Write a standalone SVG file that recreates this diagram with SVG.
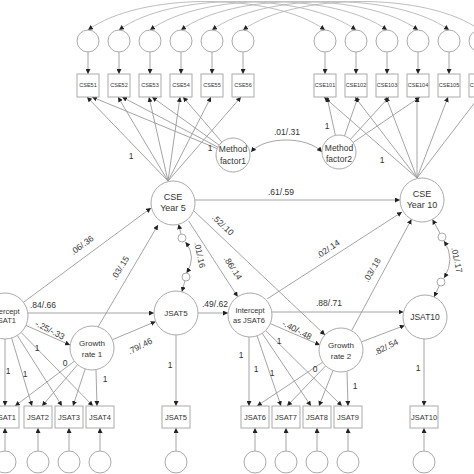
<svg xmlns="http://www.w3.org/2000/svg" width="474" height="474" viewBox="0 0 474 474">
<defs>
<marker id="ah" viewBox="0 0 10 10" refX="10" refY="5" markerWidth="5" markerHeight="5" orient="auto-start-reverse" markerUnits="userSpaceOnUse"><path d="M0,0 L10,5 L0,10 z" fill="#222"/></marker>
<style>
.n circle,.n rect{fill:#fff;stroke:#aaa;stroke-width:1}
.c line,.c path{stroke:#9a9a9a;stroke-width:0.9;fill:none;marker-end:url(#ah)}
.c .d{marker-start:url(#ah)}
.c .arc{stroke:#b5b5b5}
text{font-family:"Liberation Sans",Arial,sans-serif;fill:#333;text-anchor:middle}
.t5{font-size:5.5px}
.t7{font-size:7.5px}
.t8{font-size:8px}
.t9{font-size:9px}
.lb{font-size:8.5px}
</style>
</defs>
<rect width="474" height="474" fill="#fff"/>
<g id="connectors" class="c">
<!-- error covariances top -->
<path class="d arc" d="M88,30 C140,-8 273,-8 325,30"/>
<path class="d arc" d="M119,30 C171,-8 304,-8 356,30"/>
<path class="d arc" d="M150,30 C202,-8 335,-8 387,30"/>
<path class="d arc" d="M181,30 C233,-8 366,-8 418,30"/>
<path class="d arc" d="M212,30 C264,-8 397,-8 449,30"/>
<path class="d arc" d="M243,30 C295,-8 428,-8 480,30"/>
<!-- error to CSE boxes -->
<line x1="88" y1="52" x2="88" y2="74"/><line x1="119" y1="52" x2="119" y2="74"/><line x1="150" y1="52" x2="150" y2="74"/>
<line x1="181" y1="52" x2="181" y2="74"/><line x1="212" y1="52" x2="212" y2="74"/><line x1="243" y1="52" x2="243" y2="74"/>
<line x1="325" y1="52" x2="325" y2="74"/><line x1="356" y1="52" x2="356" y2="74"/><line x1="387" y1="52" x2="387" y2="74"/>
<line x1="418" y1="52" x2="418" y2="74"/><line x1="449" y1="52" x2="449" y2="74"/><line x1="480" y1="52" x2="480" y2="74"/>
<!-- CSE Y5 loadings -->
<line x1="168" y1="181" x2="87" y2="97"/><line x1="168" y1="181" x2="118" y2="97"/><line x1="168" y1="181" x2="149" y2="97"/>
<line x1="168" y1="181" x2="180" y2="97"/><line x1="168" y1="181" x2="211" y2="97"/><line x1="168" y1="181" x2="241" y2="97"/>
<!-- MF1 loadings -->
<line x1="217.2" y1="148.6" x2="92" y2="97"/><line x1="217.9" y1="147.2" x2="122" y2="97"/>
<line x1="219.2" y1="145.1" x2="152" y2="97"/><line x1="221.9" y1="142.1" x2="183" y2="97"/>
<!-- CSE Y10 loadings -->
<line x1="417" y1="178" x2="324" y2="97"/><line x1="417" y1="178" x2="355" y2="97"/><line x1="417" y1="178" x2="386" y2="97"/>
<line x1="417" y1="178" x2="417" y2="97"/><line x1="417" y1="178" x2="448" y2="97"/><line x1="417" y1="178" x2="479" y2="97"/>
<!-- MF2 loadings -->
<line x1="335.4" y1="135.4" x2="327" y2="97"/><line x1="344.5" y1="135.9" x2="358" y2="97"/>
<line x1="350.4" y1="139.4" x2="389" y2="97"/><line x1="353.1" y1="142.4" x2="420" y2="97"/>
<!-- method factor covariance -->
<path class="d" d="M251,152 C265,136 307,136 322,152"/>
<!-- structural paths -->
<line x1="23.5" y1="302.3" x2="151" y2="208"/>
<line x1="98" y1="327" x2="158" y2="225"/>
<line x1="28" y1="313" x2="154" y2="313"/>
<line x1="26" y1="325.4" x2="70" y2="345"/>
<line x1="112.4" y1="339.7" x2="155.7" y2="321.5"/>
<line x1="198" y1="313" x2="228" y2="313"/>
<line x1="188.7" y1="221" x2="237.7" y2="296.8"/>
<line x1="194" y1="211" x2="325" y2="334.9"/>
<line x1="195" y1="200" x2="400" y2="200"/>
<line x1="267" y1="299" x2="402" y2="212"/>
<line x1="351.6" y1="330.7" x2="411.5" y2="219.3"/>
<line x1="272" y1="312" x2="403.5" y2="312"/>
<line x1="270.3" y1="323.6" x2="320" y2="345"/>
<line x1="361.4" y1="341.9" x2="404.7" y2="325.4"/>
<!-- disturbances -->
<line x1="181" y1="234.1" x2="178.5" y2="224.3"/>
<line x1="184.9" y1="280.9" x2="181.9" y2="291.8"/>
<path class="d" d="M185.5,242 Q197,257 186.5,273"/>
<line x1="440.1" y1="233.5" x2="432.5" y2="219.4"/>
<line x1="439.3" y1="285.6" x2="434.1" y2="297"/>
<path class="d" d="M444,241 Q456,259 444,278"/>
<!-- JSAT loadings -->
<line x1="5" y1="339" x2="5" y2="406"/><line x1="11.6" y1="338" x2="32" y2="406"/>
<line x1="17.3" y1="335.4" x2="62" y2="406"/><line x1="21.1" y1="332.4" x2="93" y2="406"/>
<line x1="74.4" y1="361.2" x2="15" y2="406"/><line x1="77.6" y1="364.7" x2="42" y2="406"/>
<line x1="85.2" y1="368.9" x2="73" y2="406"/><line x1="96" y1="369.9" x2="97" y2="406"/>
<line x1="176" y1="335" x2="176" y2="406"/>
<line x1="249" y1="337" x2="249" y2="406"/><line x1="257.1" y1="335.8" x2="281" y2="406"/>
<line x1="262.2" y1="333.3" x2="311" y2="406"/><line x1="265.6" y1="330.5" x2="342" y2="406"/>
<line x1="322.7" y1="362.2" x2="257" y2="406"/><line x1="325.7" y1="365.8" x2="287" y2="406"/>
<line x1="333" y1="370.5" x2="319" y2="406"/><line x1="347" y1="371.5" x2="348" y2="406"/>
<line x1="424" y1="339" x2="424" y2="406"/>
<!-- bottom errors -->
<line x1="5" y1="451" x2="5" y2="428"/><line x1="38" y1="451" x2="38" y2="428"/><line x1="69" y1="451" x2="69" y2="428"/>
<line x1="100" y1="451" x2="100" y2="428"/><line x1="176" y1="451" x2="176" y2="428"/><line x1="255" y1="451" x2="255" y2="428"/>
<line x1="286" y1="451" x2="286" y2="428"/><line x1="317" y1="451" x2="317" y2="428"/><line x1="348" y1="451" x2="348" y2="428"/>
<line x1="424" y1="451" x2="424" y2="428"/>
<!-- labels -->
<g class="lb">
<text transform="translate(82,245) rotate(-37)" y="3">.06/.36</text>
<text transform="translate(120,268) rotate(-58)" y="3">.03/.15</text>
<text transform="translate(223,225) rotate(43)" y="3">.52/.10</text>
<text transform="translate(233,268) rotate(57)" y="3">.86/.14</text>
<text transform="translate(200,255) rotate(78)" y="3">.01/.16</text>
<text x="281" y="195">.61/.59</text>
<text transform="translate(328,249) rotate(-34)" y="3">.02/.14</text>
<text transform="translate(372,270) rotate(-60)" y="3">.03/.18</text>
<text transform="translate(457,260) rotate(78)" y="3">.01/.17</text>
<text x="287" y="135">.01/.31</text>
<text x="43" y="308">.84/.66</text>
<text transform="translate(50,330) rotate(27)" y="3">-.25/-.33</text>
<text transform="translate(140,346) rotate(-27)" y="3">.79/.46</text>
<text x="215" y="307">.49/.62</text>
<text x="329" y="306">.88/.71</text>
<text transform="translate(297,330) rotate(28)" y="3">-.40/-.48</text>
<text transform="translate(386,347) rotate(-27)" y="3">.82/.54</text>
<text x="131" y="159">1</text><text x="210" y="151">1</text><text x="327" y="129">1</text><text x="382" y="163">1</text>
<text x="37" y="351">1</text><text x="8" y="374">1</text><text x="25" y="377">1</text><text x="65" y="366">0</text><text x="105" y="382">1</text>
<text x="170" y="368">1</text>
<text x="279" y="344">1</text><text x="241" y="358">1</text><text x="256" y="372">1</text><text x="272" y="376">1</text><text x="315" y="372">0</text><text x="355" y="389">1</text>
<text x="418" y="371">1</text>
</g>
</g>
<!-- top error terms -->
<g id="e51" class="n"><circle cx="88" cy="41" r="11"/></g>
<g id="e52" class="n"><circle cx="119" cy="41" r="11"/></g>
<g id="e53" class="n"><circle cx="150" cy="41" r="11"/></g>
<g id="e54" class="n"><circle cx="181" cy="41" r="11"/></g>
<g id="e55" class="n"><circle cx="212" cy="41" r="11"/></g>
<g id="e56" class="n"><circle cx="243" cy="41" r="11"/></g>
<g id="e101" class="n"><circle cx="325" cy="41" r="11"/></g>
<g id="e102" class="n"><circle cx="356" cy="41" r="11"/></g>
<g id="e103" class="n"><circle cx="387" cy="41" r="11"/></g>
<g id="e104" class="n"><circle cx="418" cy="41" r="11"/></g>
<g id="e105" class="n"><circle cx="449" cy="41" r="11"/></g>
<g id="e106" class="n"><circle cx="480" cy="41" r="11"/></g>
<!-- CSE boxes -->
<g id="CSE51" class="n"><rect x="77" y="74" width="22" height="23"/><text class="t5" x="88" y="87">CSE51</text></g>
<g id="CSE52" class="n"><rect x="108" y="74" width="22" height="23"/><text class="t5" x="119" y="87">CSE52</text></g>
<g id="CSE53" class="n"><rect x="139" y="74" width="22" height="23"/><text class="t5" x="150" y="87">CSE53</text></g>
<g id="CSE54" class="n"><rect x="170" y="74" width="22" height="23"/><text class="t5" x="181" y="87">CSE54</text></g>
<g id="CSE55" class="n"><rect x="201" y="74" width="22" height="23"/><text class="t5" x="212" y="87">CSE55</text></g>
<g id="CSE56" class="n"><rect x="232" y="74" width="22" height="23"/><text class="t5" x="243" y="87">CSE56</text></g>
<g id="CSE101" class="n"><rect x="314" y="74" width="22" height="23"/><text class="t5" x="325" y="87">CSE101</text></g>
<g id="CSE102" class="n"><rect x="345" y="74" width="22" height="23"/><text class="t5" x="356" y="87">CSE102</text></g>
<g id="CSE103" class="n"><rect x="376" y="74" width="22" height="23"/><text class="t5" x="387" y="87">CSE103</text></g>
<g id="CSE104" class="n"><rect x="407" y="74" width="22" height="23"/><text class="t5" x="418" y="87">CSE104</text></g>
<g id="CSE105" class="n"><rect x="438" y="74" width="22" height="23"/><text class="t5" x="449" y="87">CSE105</text></g>
<g id="CSE106" class="n"><rect x="469" y="74" width="22" height="23"/><text class="t5" x="480" y="87">CSE106</text></g>
<!-- latents -->
<g id="MF1" class="n"><circle cx="233" cy="155" r="17"/><text class="lb" x="233" y="152">Method</text><text class="lb" x="233" y="164">factor1</text></g>
<g id="MF2" class="n"><circle cx="339" cy="152" r="17"/><text class="lb" x="339" y="151">Method</text><text class="lb" x="339" y="162">factor2</text></g>
<g id="CSEY5" class="n"><circle cx="173" cy="203" r="22"/><text class="t9" x="173" y="200">CSE</text><text class="t9" x="173" y="211">Year 5</text></g>
<g id="CSEY10" class="n"><circle cx="422" cy="200" r="22"/><text class="t9" x="422" y="197">CSE</text><text class="t9" x="422" y="208">Year 10</text></g>
<g id="eCSE5" class="n"><circle cx="182" cy="238" r="4"/></g>
<g id="eJSAT5" class="n"><circle cx="186" cy="277" r="4"/></g>
<g id="eCSE10" class="n"><circle cx="442" cy="237" r="4"/></g>
<g id="eJSAT10" class="n"><circle cx="441" cy="282" r="4"/></g>
<g id="Int1" class="n"><circle cx="5" cy="316" r="23"/><text class="t7" x="5" y="314">Intercept</text><text class="t7" x="5" y="323">JSAT1</text></g>
<g id="GR1" class="n"><circle cx="92" cy="348" r="22"/><text class="t8" x="92" y="346">Growth</text><text class="t8" x="92" y="357">rate 1</text></g>
<g id="JSAT5L" class="n"><circle cx="176" cy="313" r="22"/><text class="t8" x="176" y="316">JSAT5</text></g>
<g id="Int6" class="n"><circle cx="250" cy="315" r="22"/><text class="t7" x="250" y="313">Intercept</text><text class="t7" x="249" y="323">as JSAT6</text></g>
<g id="GR2" class="n"><circle cx="341" cy="350" r="22"/><text class="t8" x="341" y="348">Growth</text><text class="t8" x="341" y="359">rate 2</text></g>
<g id="JSAT10L" class="n"><circle cx="425" cy="317" r="22"/><text class="lb" x="425" y="320">JSAT10</text></g>
<!-- JSAT boxes -->
<g id="JSAT1" class="n"><rect x="-9" y="406" width="28" height="22"/><text class="t7" x="5" y="420">JSAT1</text></g>
<g id="JSAT2" class="n"><rect x="24" y="406" width="28" height="22"/><text class="t7" x="38" y="420">JSAT2</text></g>
<g id="JSAT3" class="n"><rect x="55" y="406" width="28" height="22"/><text class="t7" x="69" y="420">JSAT3</text></g>
<g id="JSAT4" class="n"><rect x="86" y="406" width="28" height="22"/><text class="t7" x="100" y="420">JSAT4</text></g>
<g id="JSAT5" class="n"><rect x="162" y="406" width="28" height="22"/><text class="t7" x="176" y="420">JSAT5</text></g>
<g id="JSAT6" class="n"><rect x="241" y="406" width="28" height="22"/><text class="t7" x="255" y="420">JSAT6</text></g>
<g id="JSAT7" class="n"><rect x="272" y="406" width="28" height="22"/><text class="t7" x="286" y="420">JSAT7</text></g>
<g id="JSAT8" class="n"><rect x="303" y="406" width="28" height="22"/><text class="t7" x="317" y="420">JSAT8</text></g>
<g id="JSAT9" class="n"><rect x="334" y="406" width="28" height="22"/><text class="t7" x="348" y="420">JSAT9</text></g>
<g id="JSAT10" class="n"><rect x="410" y="406" width="28" height="22"/><text class="t7" x="424" y="420">JSAT10</text></g>
<!-- bottom errors -->
<g id="eJ1" class="n"><circle cx="5" cy="462" r="11"/></g>
<g id="eJ2" class="n"><circle cx="38" cy="462" r="11"/></g>
<g id="eJ3" class="n"><circle cx="69" cy="462" r="11"/></g>
<g id="eJ4" class="n"><circle cx="100" cy="462" r="11"/></g>
<g id="eJ5" class="n"><circle cx="176" cy="462" r="11"/></g>
<g id="eJ6" class="n"><circle cx="255" cy="462" r="11"/></g>
<g id="eJ7" class="n"><circle cx="286" cy="462" r="11"/></g>
<g id="eJ8" class="n"><circle cx="317" cy="462" r="11"/></g>
<g id="eJ9" class="n"><circle cx="348" cy="462" r="11"/></g>
<g id="eJ10" class="n"><circle cx="424" cy="462" r="11"/></g>
</svg>
